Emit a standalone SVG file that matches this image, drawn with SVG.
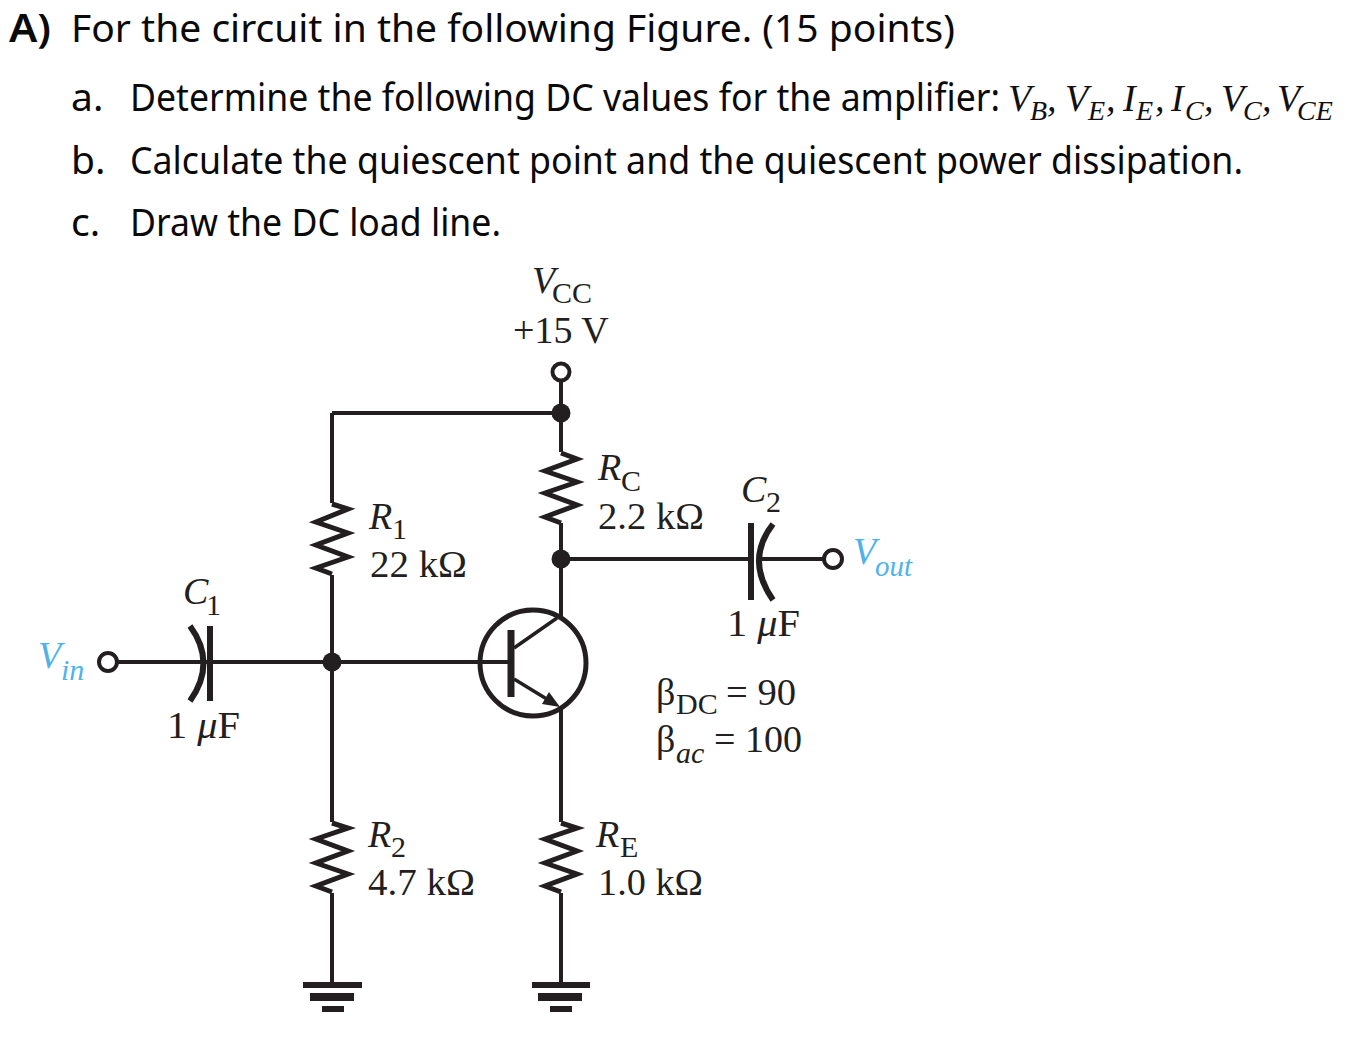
<svg xmlns="http://www.w3.org/2000/svg" width="1352" height="1050" viewBox="0 0 1352 1050">
<style>
.h{font-family:"Noto Sans","Open Sans",sans-serif;font-size:39px;fill:#0a0a0a}
.b{font-weight:600}
.m{font-family:"Liberation Serif",serif;font-style:italic;font-size:38px;fill:#111}
.ms{font-size:28px}
.t{font-family:"Liberation Serif",serif;font-size:38px;fill:#231f20}
.s{font-family:"Liberation Serif",serif;font-size:30px;fill:#231f20}
.i{font-style:italic}
.bl{fill:#4fb3ea}
.w{fill:none;stroke:#231f20;stroke-width:4}
.z{fill:none;stroke:#231f20;stroke-width:5;stroke-linejoin:miter}
.pl{fill:none;stroke:#231f20;stroke-width:6}
.o{fill:#fff;stroke:#231f20;stroke-width:4}
.d{fill:#231f20}
</style>
<g id="question">
<text class="h b" x="9" y="42" textLength="42" lengthAdjust="spacingAndGlyphs">A)</text>
<text class="h" x="71" y="42" textLength="884" lengthAdjust="spacingAndGlyphs">For the circuit in the following Figure. (15 points)</text>
<text class="h" x="71" y="111">a.</text>
<text class="h" x="130" y="111" textLength="870" lengthAdjust="spacingAndGlyphs">Determine the following DC values for the amplifier:</text>
<text class="h" x="71" y="174">b.</text>
<text class="h" x="130" y="174" textLength="1113" lengthAdjust="spacingAndGlyphs">Calculate the quiescent point and the quiescent power dissipation.</text>
<text class="h" x="71" y="236">c.</text>
<text class="h" x="130" y="236" textLength="371" lengthAdjust="spacingAndGlyphs">Draw the DC load line.</text>
<text class="m" y="111"><tspan x="1008">V</tspan><tspan class="ms" x="1030" y="120">B</tspan><tspan x="1047" y="111">,</tspan><tspan x="1065">V</tspan><tspan class="ms" x="1088" y="120">E</tspan><tspan x="1106" y="111">,</tspan><tspan x="1123">I</tspan><tspan class="ms" x="1136" y="120">E</tspan><tspan x="1155" y="111">,</tspan><tspan x="1171">I</tspan><tspan class="ms" x="1185" y="120">C</tspan><tspan x="1204" y="111">,</tspan><tspan x="1221">V</tspan><tspan class="ms" x="1243" y="120">C</tspan><tspan x="1262" y="111">,</tspan><tspan x="1277">V</tspan><tspan class="ms" x="1297" y="120">CE</tspan></text>
</g>
<g id="connectors">
<path class="w" d="M561 381V452M332 413H561M332 413V503M561 523V618M561 559H751M760 559H824"/>
<path class="w" d="M117 662H210M210 662H511M332 575V822M332 893V982M561 707V822M561 893V982"/>
</g>
<g id="vcc">
<circle class="o" cx="561" cy="372" r="8.5"/>
<circle class="d" cx="561" cy="413" r="9.5"/>
<text class="t i" x="532" y="293">V</text><text class="s" x="552" y="303">CC</text>
<text class="t" x="513" y="343">+15 V</text>
</g>
<g id="rc">
<path class="z" d="M561 453L577 459L545 471L577 482L545 493L577 505L545 517L561 523"/>
<text class="t i" x="598" y="480">R</text><text class="s" x="621" y="491">C</text>
<text class="t" x="598" y="529" textLength="106" lengthAdjust="spacingAndGlyphs">2.2 kΩ</text>
</g>
<g id="collector-node"><circle class="d" cx="561" cy="559" r="9.5"/></g>
<g id="c2">
<path class="pl" d="M751 523V600"/>
<path class="pl" d="M773 524Q745 560 773 600"/>
<text class="t i" x="741" y="502">C</text><text class="s" x="766" y="512">2</text>
<text class="t" x="727" y="636" textLength="73" lengthAdjust="spacingAndGlyphs">1 <tspan class="i">μ</tspan>F</text>
</g>
<g id="vout">
<circle class="o" cx="833" cy="559" r="9"/>
<text class="t i bl" x="853" y="564">V</text><text class="s i bl" x="875" y="576" textLength="37" lengthAdjust="spacingAndGlyphs">out</text>
</g>
<g id="r1">
<path class="z" d="M332 504L348 509L316 522L348 533L316 545L348 557L316 568L332 574"/>
<text class="t i" x="369" y="529">R</text><text class="s" x="392" y="539">1</text>
<text class="t" x="370" y="577" textLength="97" lengthAdjust="spacingAndGlyphs">22 kΩ</text>
</g>
<g id="c1">
<path class="pl" d="M210 626V701"/>
<path class="pl" d="M190 626Q217 663 190 701"/>
<text class="t i" x="183" y="604">C</text><text class="s" x="206" y="615">1</text>
<text class="t" x="167" y="738" textLength="73" lengthAdjust="spacingAndGlyphs">1 <tspan class="i">μ</tspan>F</text>
</g>
<g id="vin">
<circle class="o" cx="108" cy="662" r="9"/>
<text class="t i bl" x="38" y="668">V</text><text class="s i bl" x="61" y="680">in</text>
</g>
<g id="base-node"><circle class="d" cx="332" cy="662" r="9.5"/></g>
<g id="transistor">
<circle cx="533" cy="663" r="53" fill="none" stroke="#231f20" stroke-width="5"/>
<path d="M511 630V697" fill="none" stroke="#231f20" stroke-width="7"/>
<path fill="none" stroke="#231f20" stroke-width="3.5" d="M514 648L557 618M514 679L550 701"/>
<path class="d" d="M560 707L542 704L549 692Z"/>
<text class="t" x="656" y="705">β</text><text class="s" x="676" y="714">DC</text><text class="t" x="726" y="705" textLength="70" lengthAdjust="spacingAndGlyphs">= 90</text>
<text class="t" x="656" y="752">β</text><text class="s i" x="676" y="763">ac</text><text class="t" x="714" y="752" textLength="88" lengthAdjust="spacingAndGlyphs">= 100</text>
</g>
<g id="r2">
<path class="z" d="M332 823L348 828L316 839L348 851L316 863L348 874L316 886L332 892"/>
<text class="t i" x="368" y="847">R</text><text class="s" x="391" y="857">2</text>
<text class="t" x="368" y="895" textLength="107" lengthAdjust="spacingAndGlyphs">4.7 kΩ</text>
</g>
<g id="re">
<path class="z" d="M561 823L577 828L545 839L577 851L545 863L577 874L545 886L561 892"/>
<text class="t i" x="596" y="847">R</text><text class="s" x="620" y="857">E</text>
<text class="t" x="598" y="895" textLength="105" lengthAdjust="spacingAndGlyphs">1.0 kΩ</text>
</g>
<g id="ground-1" class="d"><rect x="303" y="982" width="59" height="6"/><rect x="310" y="993" width="44" height="8"/><rect x="322" y="1006" width="22" height="6"/></g>
<g id="ground-2" class="d"><rect x="532" y="982" width="58" height="6"/><rect x="538" y="993" width="44" height="8"/><rect x="550" y="1006" width="22" height="6"/></g>
</svg>
